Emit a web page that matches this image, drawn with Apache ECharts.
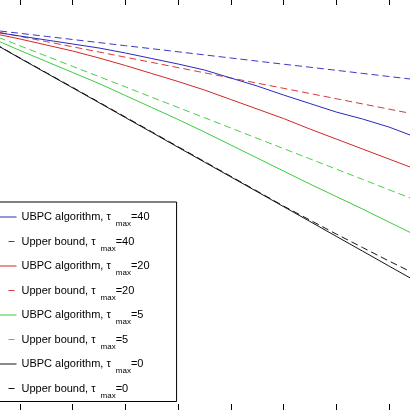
<!DOCTYPE html>
<html>
<head>
<meta charset="utf-8">
<script src="https://cdn.jsdelivr.net/npm/echarts@6/dist/echarts.min.js"></script>
<style>
  html, body { margin: 0; padding: 0; background: #fff; }
  #main0 { width: 410px; height: 410px; }
</style>
</head>
<body>
<div id="main0"></div>
<script>
// x 轴取样点
var xValues = [0, 5, 10, 15, 20, 25, 30, 35, 40, 45, 50, 55, 60, 65, 70, 75, 80, 85, 90];

// 各曲线数值
var ubpc40 = [38.35, 37.90, 37.50, 37.10, 36.70, 36.30, 35.80, 35.25, 34.70, 34.10, 33.30, 32.50, 31.60, 30.75, 29.90, 29.20, 28.40, 27.40, 26.60];
var bound40 = [38.38, 38.07, 37.77, 37.46, 37.15, 36.84, 36.53, 36.23, 35.92, 35.61, 35.30, 34.99, 34.68, 34.38, 34.07, 33.76, 33.45, 33.14, 32.83];
var ubpc20 = [38.35, 37.75, 37.20, 36.60, 36.00, 35.30, 34.55, 33.75, 32.95, 32.10, 31.15, 30.20, 29.25, 28.20, 27.20, 26.20, 25.20, 24.20, 23.20];
var bound20 = [38.40, 37.97, 37.46, 36.94, 36.42, 35.90, 35.38, 34.86, 34.34, 33.82, 33.30, 32.79, 32.27, 31.75, 31.23, 30.71, 30.19, 29.67, 29.15];
var ubpc5 = [38.35, 37.20, 36.05, 34.95, 33.85, 32.75, 31.55, 30.35, 29.15, 27.90, 26.60, 25.30, 24.00, 22.70, 21.45, 20.20, 18.90, 17.60, 16.30];
var bound5 = [38.35, 37.55, 36.52, 35.49, 34.46, 33.44, 32.41, 31.38, 30.35, 29.33, 28.30, 27.27, 26.24, 25.22, 24.19, 23.16, 22.13, 21.11, 20.08];
var ubpc0 = [38.35, 36.77, 35.27, 33.79, 32.31, 30.83, 29.34, 27.86, 26.37, 24.89, 23.41, 21.93, 20.44, 18.96, 17.47, 15.99, 14.50, 13.02, 11.54];
var bound0 = [38.35, 36.80, 35.30, 33.83, 32.36, 30.88, 29.40, 27.92, 26.43, 24.95, 23.47, 21.99, 20.50, 19.10, 17.70, 16.35, 15.00, 13.70, 12.40];

// 图例文字
var seriesPrefix = ['UBPC algorithm, τ', 'Upper bound, τ', 'UBPC algorithm, τ', 'Upper bound, τ',
    'UBPC algorithm, τ', 'Upper bound, τ', 'UBPC algorithm, τ', 'Upper bound, τ'];
var seriesTau = ['40', '40', '20', '20', '5', '5', '0', '0'];
var seriesValues = [ubpc40, bound40, ubpc20, bound20, ubpc5, bound5, ubpc0, bound0];
var seriesColors = ['#2a2ac0', '#3a3ac8', '#d02828', '#d83a3a', '#3ccc3c', '#48d048', '#151515', '#151515'];
var seriesDashed = [false, true, false, true, false, true, false, true];

var chart = echarts.init(document.getElementById('main0'));

var names = seriesPrefix.map(function (p, i) {
    return p + 'max=' + seriesTau[i];
});

var series = names.map(function (name, i) {
    return {
        name: name,
        type: 'line',
        symbol: 'none',
        z: 10 - i,
        data: xValues.map(function (x, k) { return [x, seriesValues[i][k]]; }),
        lineStyle: {
            color: seriesColors[i],
            width: 1,
            type: seriesDashed[i] ? [7, 4] : 'solid'
        },
        itemStyle: { color: seriesColors[i] }
    };
});

var font = 'Liberation Sans, Arial, sans-serif';

var option = {
    animation: false,
    backgroundColor: '#fff',
    grid: {
        left: -32.7,
        right: -31.6,
        top: -1,
        bottom: -1,
        outerBoundsMode: 'none'
    },
    legend: {
        orient: 'vertical',
        left: -30,
        top: 202,
        padding: [4, 27, 2, 12],
        itemWidth: 34,
        itemHeight: 14,
        itemGap: 2.5,
        backgroundColor: '#fff',
        borderColor: '#000',
        borderWidth: 1,
        borderRadius: 0,
        data: names.map(function (name, i) {
            return {
                name: name,
                itemStyle: { opacity: 0 },
                lineStyle: {
                    color: seriesColors[i],
                    width: 1,
                    type: seriesDashed[i] ? [6, 20] : 'solid'
                }
            };
        }),
        formatter: function (name) {
            var i = names.indexOf(name);
            return '{a|' + seriesPrefix[i] + '}{s|max}{a|=' + seriesTau[i] + '}';
        },
        textStyle: {
            fontFamily: font,
            color: '#000',
            rich: {
                a: { fontSize: 11, lineHeight: 14, fontFamily: font, color: '#000' },
                s: { fontSize: 8, lineHeight: 9, padding: [14, 0, 0, 5], fontFamily: font, color: '#000' }
            }
        }
    },
    xAxis: [
        {
            type: 'value',
            min: 0,
            max: 90,
            interval: 10,
            position: 'bottom',
            axisLine: { show: false },
            axisTick: { show: true, inside: true, length: 7, lineStyle: { color: '#000', width: 1 } },
            axisLabel: { show: false },
            splitLine: { show: false }
        },
        {
            type: 'value',
            min: 0,
            max: 90,
            interval: 10,
            position: 'top',
            axisLine: { show: false },
            axisTick: { show: true, inside: true, length: 6, lineStyle: { color: '#000', width: 1 } },
            axisLabel: { show: false },
            splitLine: { show: false }
        }
    ],
    yAxis: {
        type: 'value',
        min: 0,
        max: 41.2,
        show: false
    },
    series: series
};

chart.setOption(option);
</script>
</body>
</html>
